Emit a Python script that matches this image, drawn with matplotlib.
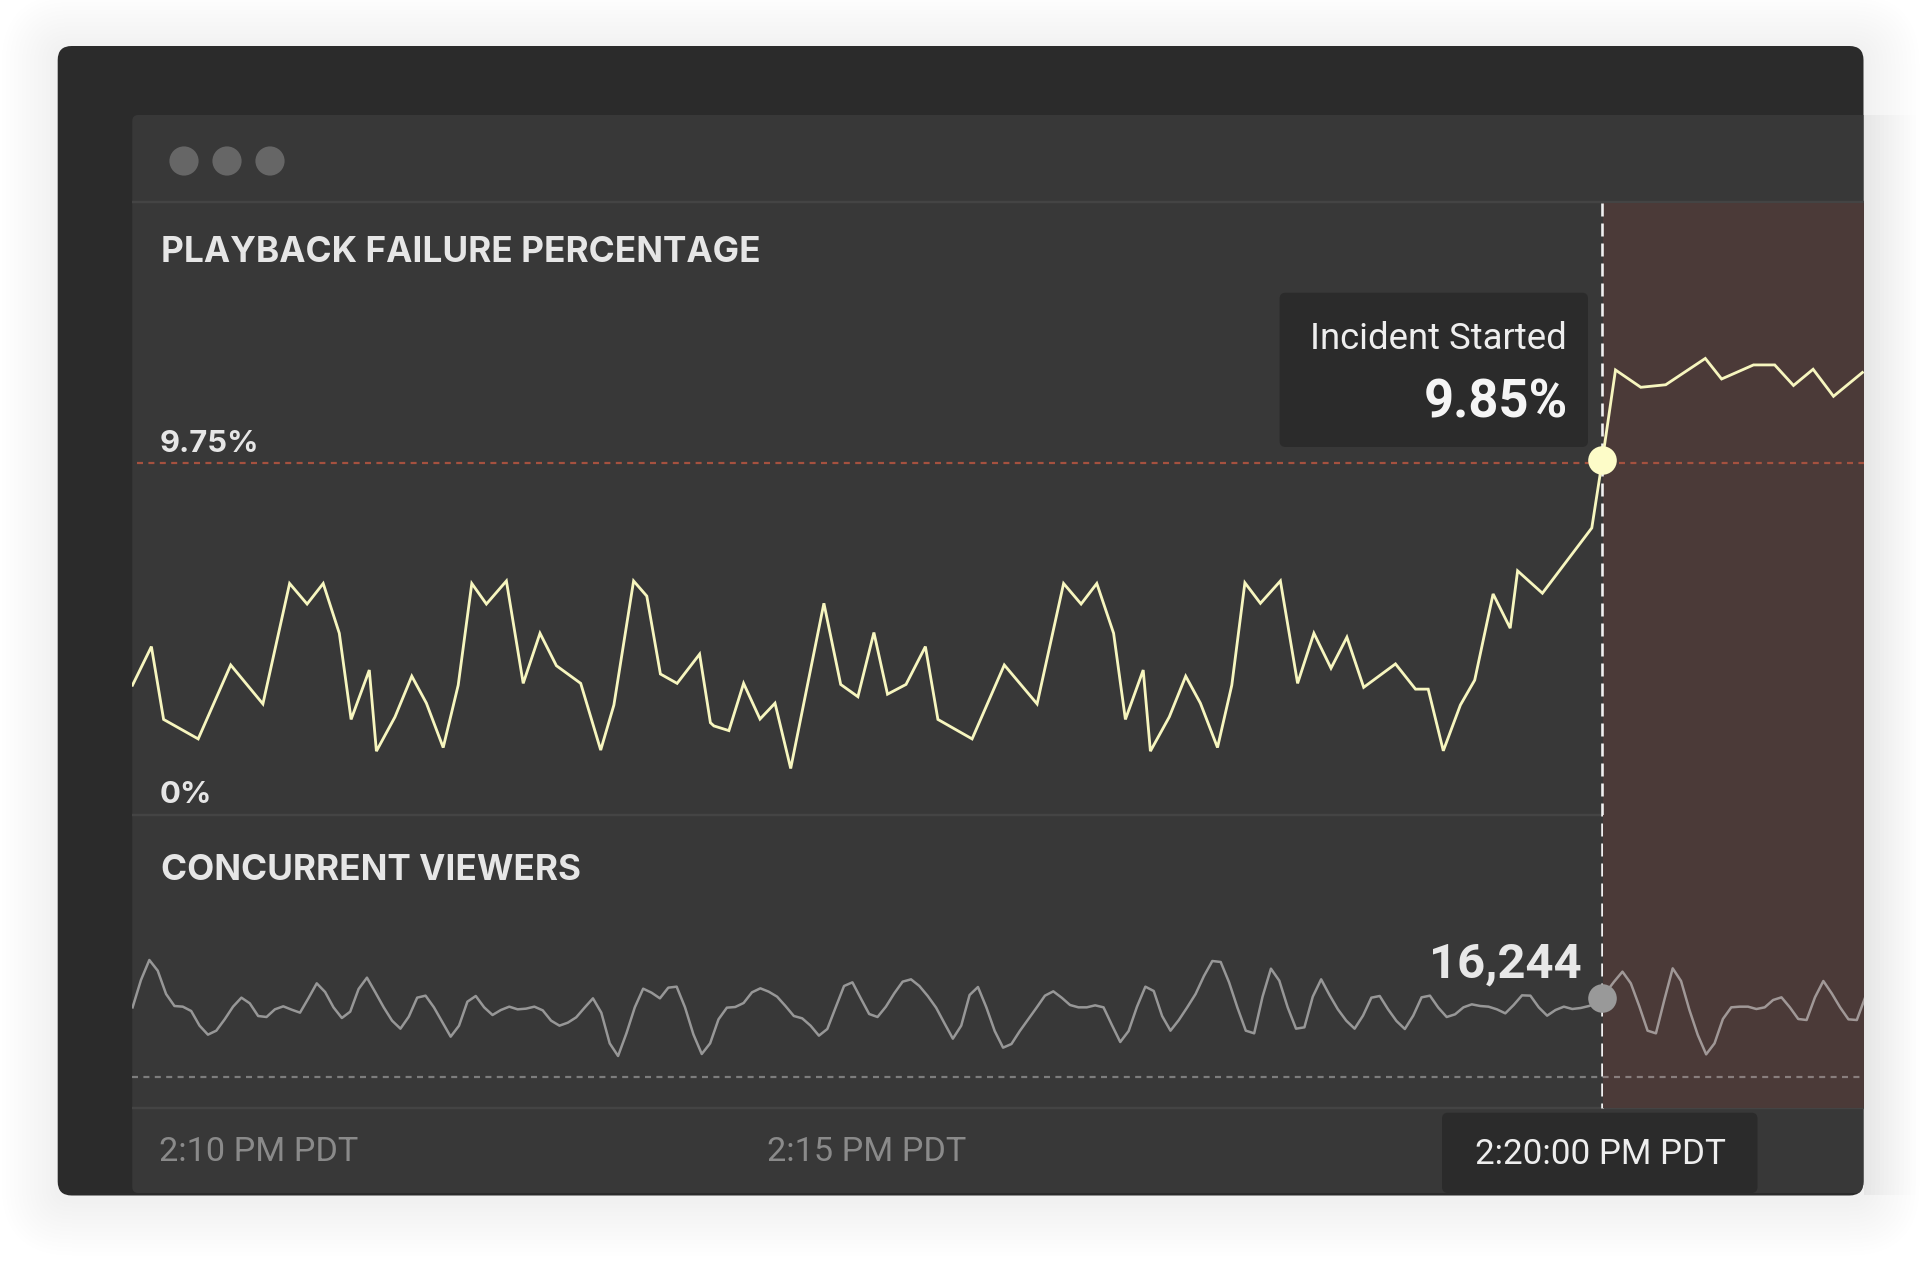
import matplotlib
matplotlib.use('Agg')
import matplotlib.pyplot as plt
from matplotlib.patches import FancyBboxPatch, Rectangle, Circle
import numpy as np

# playback failure, seconds on the strip vs percent
failure_t = [0.25, 9.7, 15.8, 33.1, 49.35, 65.45, 78.8, 87.55, 95.6, 103.65, 109.55, 118.65, 122.2, 131.5,
             139.9, 147.2, 155.6, 163.1, 169.9, 177.2, 187.2, 195.6, 204, 212.2, 224.35, 234.35, 240.95,
             250.8, 257.4, 264.2, 272.55, 283.8, 289.2, 290.95, 298.45, 305.8, 314, 321.5, 329.35, 345.95,
             354.35, 362.95, 370.95, 377.75, 387, 396.7, 402.95, 420.05, 436.15, 452.55, 465.8, 474.55,
             482.4, 490.8, 496.7, 505.6, 509.2, 518.65, 526.85, 534.2, 542.75, 549.9, 556.45, 564.2, 574.2,
             582.8, 590.95, 599.5, 607.45, 615.85, 631.75, 641.75, 648.1, 655.65, 664.2, 671.35, 680.55,
             689.1, 692.8, 705.2, 729.9, 735.2, 741.75, 754.4, 766.85, 786.65, 794.8, 810.75, 821.35,
             830.75, 840.55, 850.75, 865.2]
failure_pct = [3.60, 4.67, 2.65, 2.11, 4.16, 3.08, 6.42, 5.85, 6.42, 5.04, 2.65, 4.02, 1.77, 2.72,
               3.85, 3.10, 1.87, 3.60, 6.42, 5.85, 6.49, 3.65, 5.04, 4.14, 3.65, 1.80, 3.05,
               6.49, 6.07, 3.91, 3.65, 4.46, 2.56, 2.47, 2.34, 3.65, 2.66, 3.10, 1.29, 5.87,
               3.62, 3.28, 5.06, 3.35, 3.62, 4.67, 2.65, 2.11, 4.16, 3.08, 6.42, 5.85,
               6.42, 5.04, 2.65, 4.02, 1.77, 2.72, 3.85, 3.10, 1.87, 3.60, 6.44, 5.87, 6.49,
               3.65, 5.04, 4.07, 4.93, 3.54, 4.19, 3.49, 3.49, 1.78, 3.05, 3.74, 6.13,
               5.18, 6.77, 6.15, 7.96, 9.85, 12.34, 11.86, 11.93, 12.66, 12.09, 12.48, 12.48,
               11.91, 12.36, 11.61, 12.27]

# concurrent viewers, one sample every 4.185 s
viewers = [14277, 19744, 23744, 21611, 16944, 14544, 14411, 13544, 10611, 8811, 9611, 11877, 14411, 16211,
           15077, 12544, 12344, 13877, 14477, 13811, 13211, 16077, 19077, 17344, 14277, 12144, 13411, 17944,
           20211, 17277, 14277, 11611, 10011, 12411, 16211, 16611, 14277, 11344, 8411, 10611, 15411, 16544,
           14277, 12744, 13744, 14411, 13877, 14011, 14411, 13677, 11611, 10611, 11211, 12277, 14211, 16077,
           13211, 7077, 4544, 9077, 14277, 18011, 17211, 16077, 18211, 18411, 14277, 8877, 4944,
           7077, 11877, 14211, 14344, 15144, 17277, 18077, 17411, 16411, 14544, 12544, 12077, 10611, 8611,
           9944, 14277, 18544, 19277, 16077, 12944, 12344, 14411, 17077, 19411, 19877, 18544, 16544, 14211,
           11077, 8011, 10611, 16744, 18344, 14277, 9544, 6211, 6944, 9544, 11877, 14211, 16611, 17477,
           16211, 14744, 14277, 14277, 14677, 14277, 10744, 7344, 9544, 14411, 18411, 17544, 12544, 9611,
           11744, 14277, 16944, 20544, 23544, 23344, 19277, 14211, 9611, 9077, 16411, 22011, 19611, 14277,
           10011, 10277, 16411, 19877, 16744, 13877, 11611, 10011, 12611, 16211, 16544, 13877, 11544, 9944,
           12611, 16277, 16611, 14211, 12344, 12877, 14277, 14877, 14544, 14411, 13877, 13077, 14744, 16677,
           16611, 14277, 12611, 13744, 14411, 13944, 14144, 14544, 15077, 17211, 19411, 21411, 19077, 14544,
           9611, 9077, 15744, 22077, 19544, 13744, 8744, 4877, 7077, 11944, 14277, 14411, 14411, 13944, 14277,
           15744, 16277, 14277, 11944, 11744, 16277, 19544, 17077, 14277, 11877, 11744, 16277]

incident_t = 735.2
incident_pct = 9.85
incident_viewers = 16244
failure_limit = 9.75
viewers_floor = 404
time_labels = ['2:10 PM PDT', '2:15 PM PDT']

DARK = '#2b2b2b'
PANEL = '#383838'
EDGE = '#444444'
RED_ZONE = '#4b3a38'
W, H = 1920, 1264
LEFT, RIGHT = 132.3, 1863.5
HEAD_FONT = ['Inter', 'DejaVu Sans']

plt.rcParams['font.family'] = ['Roboto', 'DejaVu Sans']
plt.rcParams['lines.scale_dashes'] = False


def px(v):
    return v * 0.72


def round_box(ax, x0, y0, x1, y1, r, color, alpha=1.0, z=1):
    box = FancyBboxPatch((x0 + r, y0 + r), x1 - x0 - 2 * r, y1 - y0 - 2 * r,
                         boxstyle='round,pad=%f,rounding_size=%f' % (r, r),
                         fc=color, ec='none', alpha=alpha, zorder=z)
    ax.add_patch(box)
    return box


def band_axes(top, bottom):
    return fig.add_axes([LEFT / W, 1 - bottom / H, (RIGHT - LEFT) / W, (bottom - top) / H],
                        facecolor='none', zorder=3)


fig = plt.figure(figsize=(19.2, 12.64), dpi=100, facecolor='white')
bg = fig.add_axes([0, 0, 1, 1], zorder=1)

# soft shadow around the card
for spread in np.arange(56, 0, -4):
    round_box(bg, 57.7 - spread, 46 - spread + 4, 1863.5 + spread, 1195.5 + spread + 4, 14 + spread, 'black', 0.0035)

# the inner window runs off the card, its own shadow fades out to the right
fade = np.zeros((1, 60, 4))
fade[0, :, 3] = np.linspace(0.075, 0, 60) ** 1.2
bg.imshow(fade, extent=(RIGHT, RIGHT + 60, 1195, 115), aspect='auto', interpolation='bilinear', zorder=1.5)
bg.set_xlim(0, W)
bg.set_ylim(H, 0)
bg.axis('off')

card = round_box(bg, 57.7, 46, 1863.5, 1195.5, 14, DARK, z=2)
panel = Rectangle((140, 115), RIGHT - 140, 1078, fc=PANEL, ec='none', zorder=3)
bg.add_patch(panel)
panel.set_clip_path(card)
round_box(bg, 132.3, 115, 160, 1193, 6, PANEL, z=3)

for y in (202, 815, 1108.3):
    bg.plot([LEFT, RIGHT], [y, y], color=EDGE, lw=px(2.4), zorder=4, solid_capstyle='butt')
for cx in (184, 227, 270):
    bg.add_patch(Circle((cx, 161), 14.6, fc='#666666', ec='none', zorder=4))

# text and tooltips
round_box(bg, 1279.6, 292.7, 1588, 447, 6, DARK, z=5)
round_box(bg, 1442, 1112.7, 1757.5, 1193, 6, DARK, z=5)
bg.text(161, 252, 'PLAYBACK FAILURE PERCENTAGE', fontsize=px(35.2), family=HEAD_FONT, weight='bold',
        color='#e6e6e6', va='center', zorder=6)
bg.text(161, 871, 'CONCURRENT VIEWERS', fontsize=px(35.2), family=HEAD_FONT, weight='bold',
        color='#e6e6e6', va='center', zorder=6)
bg.text(160, 444, '9.75%', fontsize=px(31), family=HEAD_FONT, weight='bold', color='#e6e6e6',
        va='center', zorder=6)
bg.text(160, 795, '0%', fontsize=px(31), family=HEAD_FONT, weight='bold', color='#e6e6e6',
        va='center', zorder=6)
bg.text(1567, 339, 'Incident Started', fontsize=px(36.5), color='#eeeeee', ha='right', va='center', zorder=6)
bg.text(1568, 403, '%.2f%%' % incident_pct, fontsize=px(52.5), weight='bold', color='#f5f5f5', ha='right',
        va='center', zorder=6)
bg.text(1581.5, 965, format(incident_viewers, ','), fontsize=px(49), weight='bold', color='#e8e8e8', ha='right',
        va='center', zorder=6)
for label, x in zip(time_labels, (159, 767)):
    bg.text(x, 1152, label, fontsize=px(34.3), color='#8a8a8a', va='center', zorder=6)
bg.text(1600.5, 1155, '2:20:00 PM PDT', fontsize=px(35), color='#eeeeee', ha='center', va='center', zorder=6)

# the two chart bands share one time scale
ax1 = band_axes(203, 815)
ax2 = band_axes(815, 1108)
for ax in (ax1, ax2):
    ax.set_xlim(0.15, 865.75)
    ax.axis('off')
    ax.axvspan(incident_t + 0.5, 865.75, color=RED_ZONE, lw=0, zorder=1)
ax1.set_ylim(0, 16.97)
ax2.set_ylim(-5856, 52744)

# incident marker runs through both bands
ax1.plot([incident_t, incident_t], [16.97, -8.12], color='#f0f0f0', lw=px(2.6), dashes=(px(13), px(7)),
         clip_on=False, zorder=3)

ax1.plot([2.5, 865.75], [failure_limit, failure_limit], color='#a5513f', lw=px(2.2), dashes=(px(6), px(5.4)), zorder=2)
ax1.plot(failure_t, failure_pct, color='#f7f6bf', lw=px(2.8), solid_joinstyle='miter', zorder=4)
ax1.plot([incident_t], [incident_pct], 'o', ms=px(28.6), color='#fdfcc8', mew=0, zorder=5)

viewers_t = 0.3 + np.arange(len(viewers)) * 4.185
ax2.plot([0.15, 865.75], [viewers_floor, viewers_floor], color='#ffffff', alpha=0.35, lw=px(2.2), dashes=(px(6), px(5.4)), zorder=2)
ax2.plot(viewers_t, viewers, color='#ffffff', alpha=0.48, lw=px(2.5), zorder=4)
ax2.plot([incident_t], [incident_viewers], 'o', ms=px(28.6), color='#999999', mew=0, zorder=5)

fig.savefig('out.png', dpi=100)
